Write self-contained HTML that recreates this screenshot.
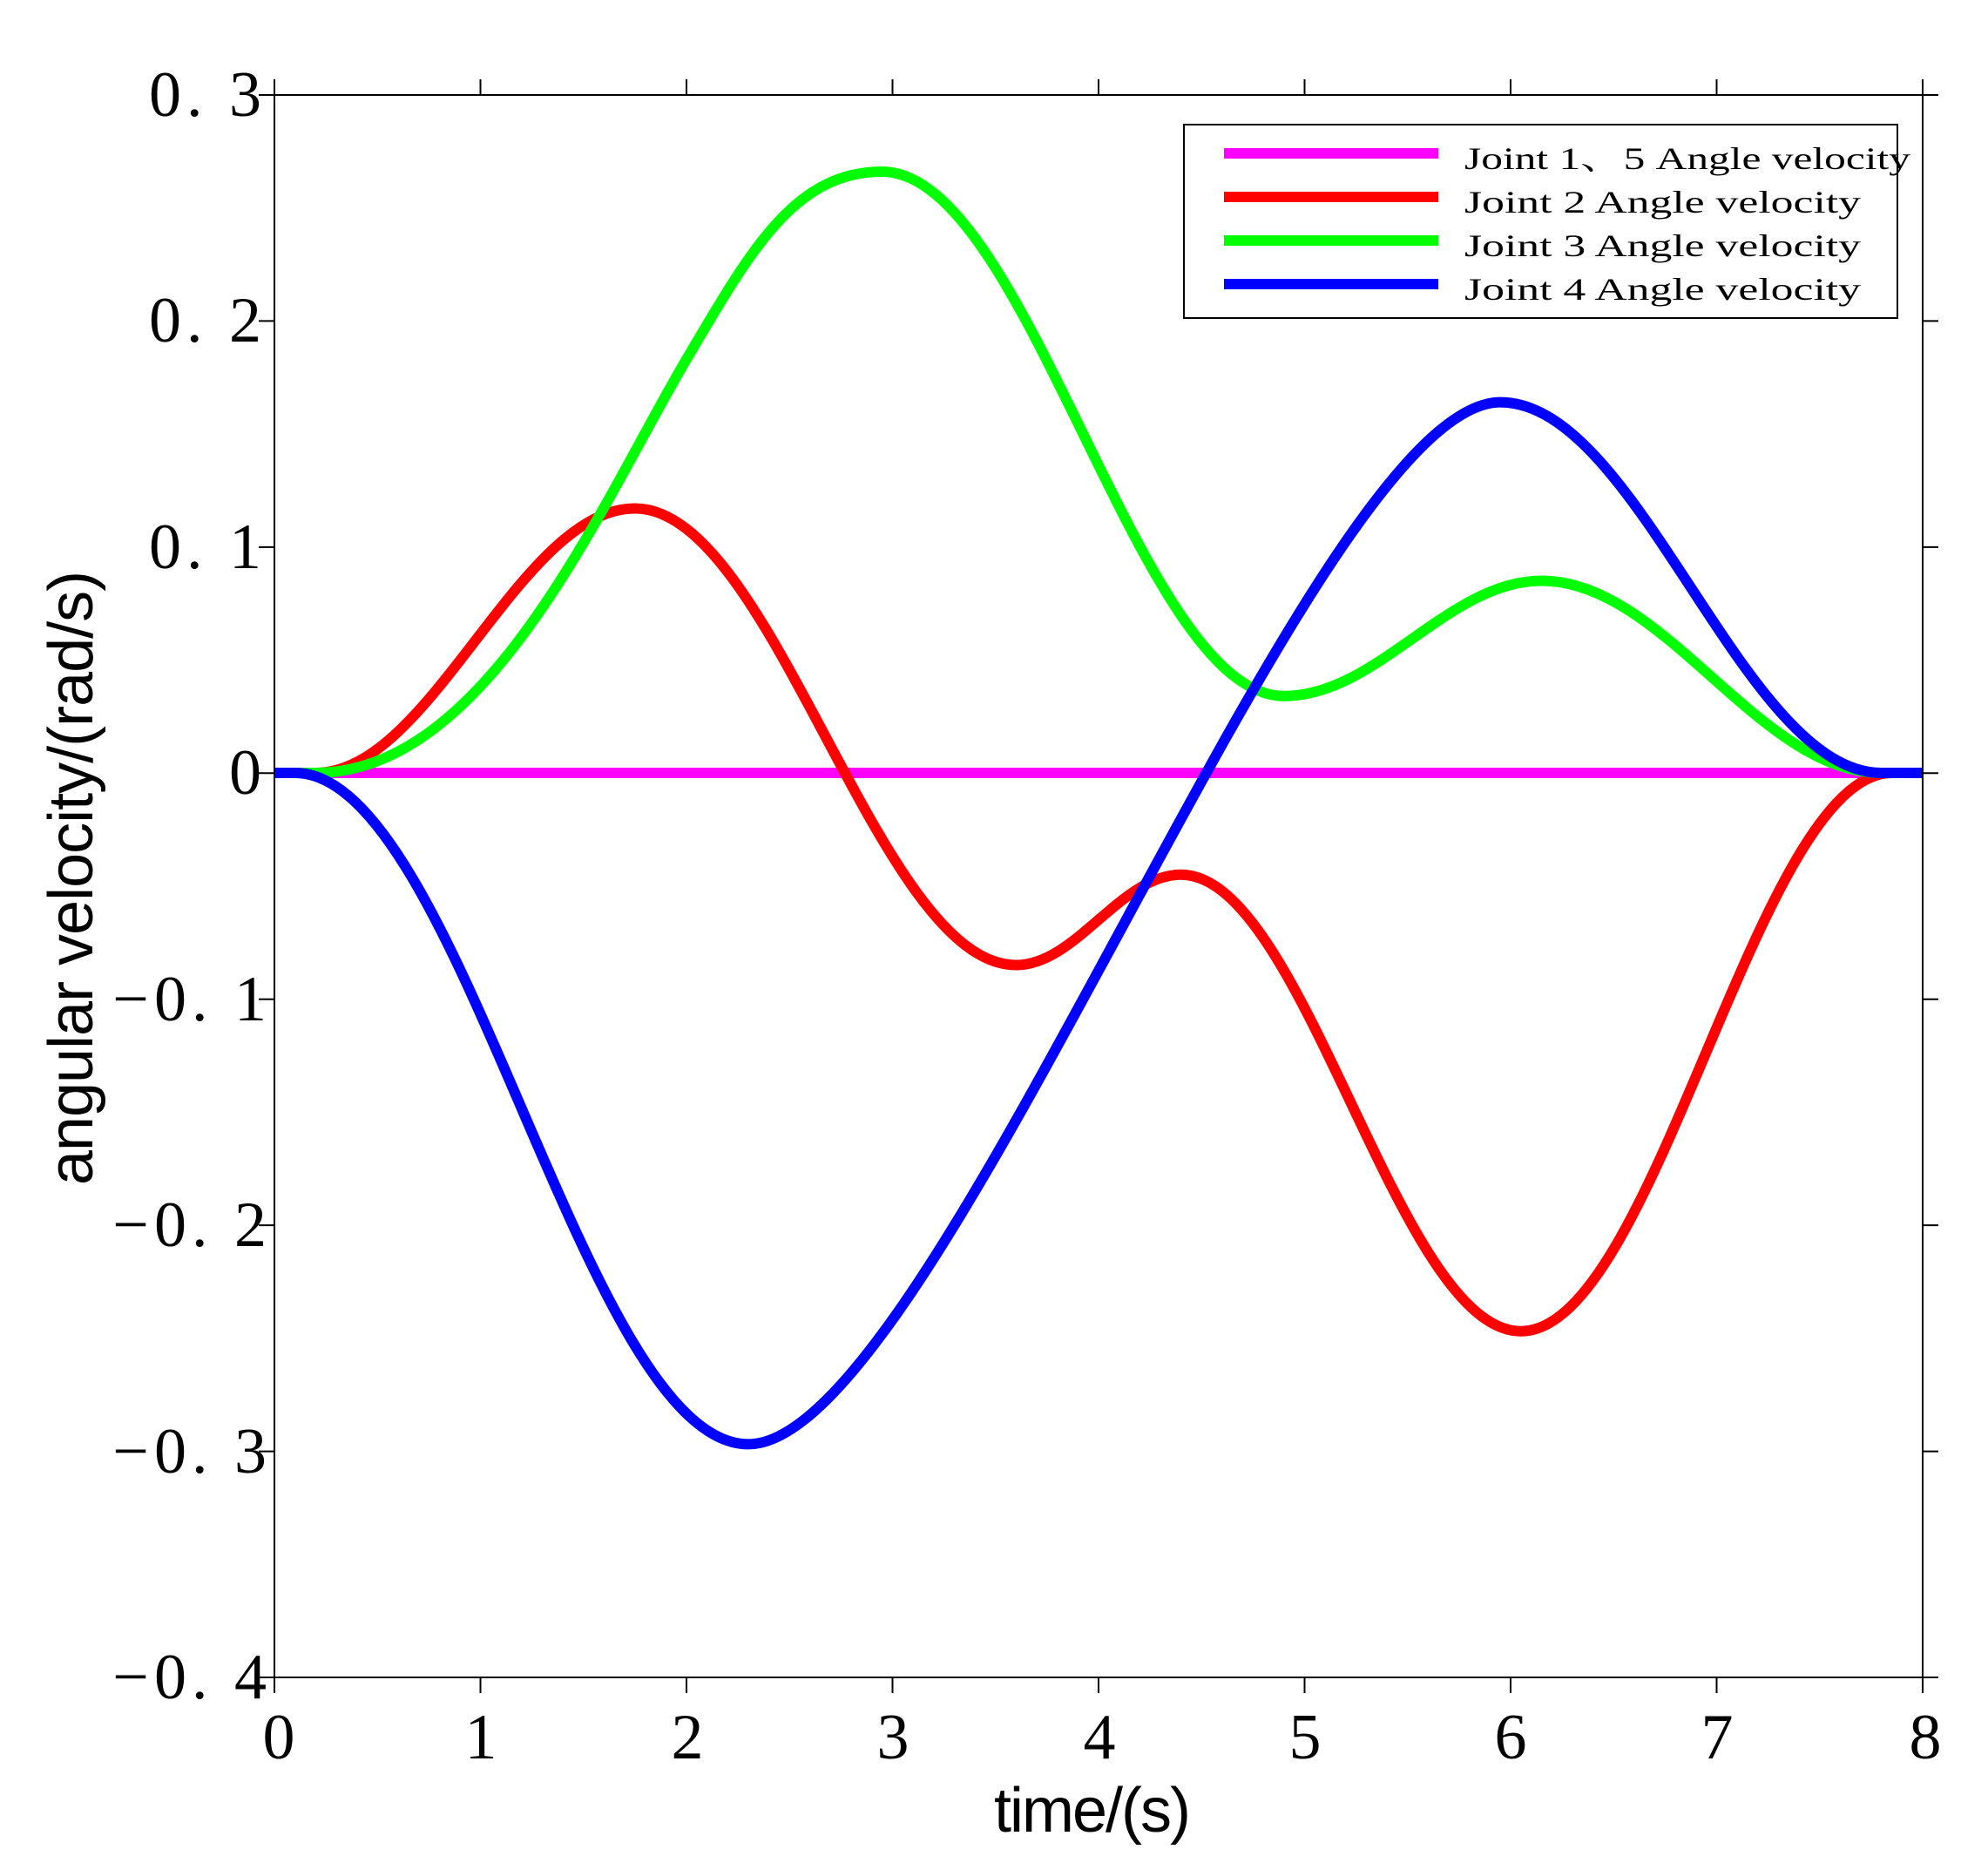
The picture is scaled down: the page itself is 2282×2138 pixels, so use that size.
<!DOCTYPE html>
<html><head><meta charset="utf-8"><style>html,body{margin:0;padding:0;background:#fff}svg{display:block}</style></head>
<body>
<svg width="2282" height="2138" viewBox="0 0 2282 2138" xmlns="http://www.w3.org/2000/svg">
<rect width="2282" height="2138" fill="#fff"/>
<g fill="none" stroke-width="12" stroke-linejoin="round">
<path stroke="#ff00ff" d="M315 887L2207 887"/>
<path stroke="#ff0000" d="M315 887L362.3 887C495.5 887 595.7 583.5 728.9 583.5C887.9 583.5 1007.4 1107.5 1166.4 1107.5C1235.2 1107.5 1286.8 1003.7 1355.6 1003.7C1497.4 1003.7 1604 1527.7 1745.8 1527.7C1900.5 1527.7 2016.8 887 2171.5 887L2207 887"/>
<path stroke="#00ff00" d="M315 887L362.3 887C560 887 690 578 788 412.3C862 287 912 197 1012.7 197C1180.3 197 1306.3 798.8 1473.9 798.8C1581.3 798.8 1662.1 666.5 1769.5 666.5C1911.3 666.5 2017.9 887 2159.7 887L2207 887"/>
<path stroke="#0000ff" d="M315 887L338.7 887C527.8 887 669.9 1657.4 859 1657.4C1075 1657.4 1506 461.6 1722.2 461.6C1881.2 461.6 2000.7 887 2159.7 887L2207 887"/>
</g>
<rect x="315" y="109" width="1892" height="1816" fill="none" stroke="#000" stroke-width="2"/>
<g stroke="#000" stroke-width="2">
<path d="M315 1925V1943M551.5 1925V1943M788 1925V1943M1024.5 1925V1943M1261 1925V1943M1497.5 1925V1943M1734 1925V1943M1970.5 1925V1943M2207 1925V1943"/>
<path d="M315 109V91M551.5 109V91M788 109V91M1024.5 109V91M1261 109V91M1497.5 109V91M1734 109V91M1970.5 109V91M2207 109V91"/>
<path d="M315 109H297M315 368.4H297M315 627.9H297M315 887.3H297M315 1146.7H297M315 1406.1H297M315 1665.6H297M315 1925H297"/>
<path d="M2207 109H2225M2207 368.4H2225M2207 627.9H2225M2207 887.3H2225M2207 1146.7H2225M2207 1406.1H2225M2207 1665.6H2225M2207 1925H2225"/>
</g>
<g font-family="Liberation Serif, serif" font-size="74" fill="#000" text-anchor="end" letter-spacing="6">
<text x="306" y="133">0. 3</text>
<text x="306" y="392">0. 2</text>
<text x="306" y="652">0. 1</text>
<text x="306" y="911">0</text>
<text x="312" y="1171">−0. 1</text>
<text x="312" y="1430">−0. 2</text>
<text x="312" y="1690">−0. 3</text>
<text x="312" y="1949">−0. 4</text>
</g>
<g font-family="Liberation Serif, serif" font-size="74" fill="#000" text-anchor="middle">
<text x="320" y="2018">0</text><text x="552" y="2018">1</text><text x="789" y="2018">2</text>
<text x="1025" y="2018">3</text><text x="1262" y="2018">4</text><text x="1498" y="2018">5</text>
<text x="1734" y="2018">6</text><text x="1971" y="2018">7</text><text x="2210" y="2018">8</text>
</g>
<text x="1253" y="2102" font-family="Liberation Sans, sans-serif" font-size="72" text-anchor="middle" letter-spacing="-2">time/(s)</text>
<text transform="translate(106,1008) rotate(-90)" font-family="Liberation Sans, sans-serif" font-size="72" text-anchor="middle" letter-spacing="-1">angular velocity/(rad/s)</text>
<rect x="1359" y="143" width="819" height="222" fill="#fff" stroke="#000" stroke-width="2"/>
<g stroke-width="12">
<line x1="1405" y1="176" x2="1651" y2="176" stroke="#ff00ff"/>
<line x1="1405" y1="226" x2="1651" y2="226" stroke="#ff0000"/>
<line x1="1405" y1="276" x2="1651" y2="276" stroke="#00ff00"/>
<line x1="1405" y1="326" x2="1651" y2="326" stroke="#0000ff"/>
</g>
<g font-family="Liberation Serif, 'Noto Serif CJK SC', serif" font-size="36" fill="#000">
<text x="1681" y="194" textLength="512" lengthAdjust="spacingAndGlyphs">Joint 1、5 Angle velocity</text>
<text x="1681" y="244" textLength="455" lengthAdjust="spacingAndGlyphs">Joint 2 Angle velocity</text>
<text x="1681" y="294" textLength="455" lengthAdjust="spacingAndGlyphs">Joint 3 Angle velocity</text>
<text x="1681" y="344" textLength="455" lengthAdjust="spacingAndGlyphs">Joint 4 Angle velocity</text>
</g>
</svg>
</body></html>
